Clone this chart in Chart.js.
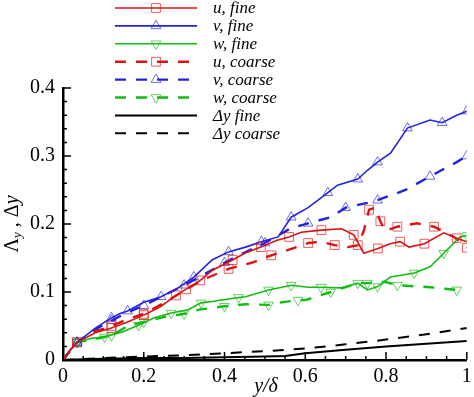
<!DOCTYPE html>
<html>
<head>
<meta charset="utf-8">
<script src="https://cdn.jsdelivr.net/npm/chart.js@4/dist/chart.umd.min.js"></script>
<style>
  body { margin: 0; background: #fff; }
</style>
</head>
<body>
<canvas id="chart" width="474" height="397"></canvas>
<script>
// Lambda_y and Delta_y against y/delta
const uFineX = [0, 0.02, 0.035, 0.08, 0.12, 0.16, 0.2, 0.24, 0.28, 0.31, 0.34, 0.37, 0.42, 0.45, 0.49, 0.53, 0.56, 0.59, 0.64, 0.69, 0.72, 0.745, 0.78, 0.81, 0.835, 0.857, 0.895, 0.943, 0.975, 1];
const uFineY = [0, 0.016, 0.026, 0.04, 0.047, 0.056, 0.066, 0.078, 0.095, 0.106, 0.117, 0.132, 0.147, 0.157, 0.166, 0.176, 0.181, 0.188, 0.191, 0.193, 0.184, 0.157, 0.164, 0.171, 0.174, 0.166, 0.171, 0.187, 0.179, 0.174];

const vFineX = [0, 0.02, 0.035, 0.08, 0.12, 0.14, 0.16, 0.2, 0.243, 0.285, 0.324, 0.369, 0.41, 0.452, 0.491, 0.533, 0.565, 0.607, 0.656, 0.68, 0.73, 0.754, 0.779, 0.811, 0.853, 0.909, 0.939, 0.975, 1];
const vFineY = [0, 0.016, 0.026, 0.047, 0.062, 0.068, 0.072, 0.085, 0.093, 0.106, 0.122, 0.147, 0.159, 0.166, 0.174, 0.181, 0.21, 0.224, 0.246, 0.257, 0.266, 0.279, 0.291, 0.304, 0.341, 0.353, 0.349, 0.36, 0.366];

const wFineX = [0, 0.02, 0.035, 0.071, 0.103, 0.145, 0.187, 0.226, 0.268, 0.31, 0.342, 0.369, 0.435, 0.452, 0.509, 0.533, 0.565, 0.607, 0.639, 0.688, 0.73, 0.754, 0.779, 0.811, 0.87, 0.909, 0.943, 0.983, 1];
const wFineY = [0, 0.016, 0.026, 0.032, 0.034, 0.041, 0.051, 0.062, 0.069, 0.074, 0.084, 0.086, 0.092, 0.093, 0.103, 0.106, 0.11, 0.107, 0.107, 0.106, 0.113, 0.103, 0.108, 0.122, 0.128, 0.137, 0.157, 0.181, 0.183];

const uCoarseX = [0, 0.02, 0.035, 0.08, 0.12, 0.16, 0.2, 0.25, 0.305, 0.354, 0.41, 0.467, 0.516, 0.558, 0.607, 0.639, 0.673, 0.705, 0.73, 0.745, 0.758, 0.772, 0.786, 0.798, 0.828, 0.877, 0.919, 0.968, 1];
const uCoarseY = [0, 0.016, 0.026, 0.042, 0.05, 0.06, 0.068, 0.084, 0.104, 0.12, 0.134, 0.143, 0.154, 0.162, 0.172, 0.174, 0.169, 0.166, 0.169, 0.19, 0.221, 0.224, 0.204, 0.19, 0.196, 0.201, 0.196, 0.181, 0.165];

const vCoarseX = [0, 0.02, 0.035, 0.08, 0.12, 0.16, 0.2, 0.25, 0.3, 0.35, 0.4, 0.45, 0.5, 0.565, 0.607, 0.663, 0.7, 0.754, 0.779, 0.848, 0.909, 0.975, 1];
const vCoarseY = [0, 0.016, 0.026, 0.045, 0.058, 0.07, 0.08, 0.095, 0.11, 0.126, 0.143, 0.158, 0.172, 0.194, 0.201, 0.21, 0.224, 0.231, 0.235, 0.25, 0.27, 0.291, 0.3];

const wCoarseX = [0, 0.02, 0.035, 0.08, 0.12, 0.16, 0.2, 0.25, 0.3, 0.337, 0.4, 0.452, 0.509, 0.533, 0.582, 0.6, 0.663, 0.73, 0.754, 0.796, 0.828, 0.909, 0.975];
const wCoarseY = [0, 0.016, 0.026, 0.031, 0.036, 0.05, 0.056, 0.063, 0.068, 0.074, 0.079, 0.082, 0.081, 0.084, 0.088, 0.088, 0.1, 0.113, 0.113, 0.115, 0.11, 0.107, 0.103];

const dyFineX = [0, 0.05, 0.1, 0.2, 0.3, 0.4, 0.5, 0.55, 0.6, 0.7, 0.8, 0.9, 1];
const dyFineY = [0, 0.001, 0.002, 0.003, 0.003, 0.004, 0.005, 0.006, 0.01, 0.015, 0.02, 0.024, 0.028];

const dyCoarseX = [0, 0.1, 0.2, 0.3, 0.4, 0.5, 0.6, 0.7, 0.8, 0.9, 1];
const dyCoarseY = [0, 0.003, 0.005, 0.007, 0.01, 0.013, 0.017, 0.023, 0.03, 0.038, 0.047];

const xTicks = [0, 0.2, 0.4, 0.6, 0.8, 1];
const yTicks = [0, 0.1, 0.2, 0.3, 0.4];

const RED = "#dd1111", BLUE = "#2323dd", GREEN = "#14bb14", BLACK = "#000";
const SERIF = "'Liberation Serif', serif";

function pts(xs, ys) {
  return xs.map((x, i) => ({x: x, y: ys[i]}));
}

// every other point carries an open marker, like the plot
const markSize = {rect: 6.2, triangle: 5.6};
function markEvery(style) {
  return ctx => (ctx.dataIndex > 0 && ctx.dataIndex % 2 === 0 ? markSize[style] : 0);
}

function series(label, xs, ys, color, style, opts) {
  return Object.assign({
    label: label,
    data: pts(xs, ys),
    borderColor: color,
    borderWidth: 1.6,
    pointStyle: style,
    pointRadius: style ? markEvery(style) : 0,
    pointBorderColor: color + "aa",
    pointBackgroundColor: "rgba(0,0,0,0)",
    pointBorderWidth: 1,
    tension: 0
  }, opts);
}

const dashed = [11, 10];

const datasets = [
  series("u, fine", uFineX, uFineY, RED, "rect"),
  series("v, fine", vFineX, vFineY, BLUE, "triangle"),
  series("w, fine", wFineX, wFineY, GREEN, "triangle", {pointRotation: 180}),
  series("u, coarse", uCoarseX, uCoarseY, RED, "rect", {borderDash: dashed, borderWidth: 2.4}),
  series("v, coarse", vCoarseX, vCoarseY, BLUE, "triangle", {borderDash: dashed, borderWidth: 2.4}),
  series("w, coarse", wCoarseX, wCoarseY, GREEN, "triangle", {pointRotation: 180, borderDash: dashed, borderWidth: 2.4}),
  series("Δy fine", dyFineX, dyFineY, BLACK, false, {borderWidth: 2}),
  series("Δy coarse", dyCoarseX, dyCoarseY, BLACK, false, {borderWidth: 2, borderDash: dashed})
];

// inward ticks, axis titles and the legend box are drawn by hand
const decor = {
  id: "decor",
  afterDraw(chart) {
    const ctx = chart.ctx;
    const xs = chart.scales.x, ys = chart.scales.y;
    const a = chart.chartArea;
    ctx.save();
    ctx.strokeStyle = BLACK;
    ctx.lineWidth = 1.5;
    ctx.beginPath();
    for (let v = 0; v <= 1.0001; v += 0.05) {
      const px = xs.getPixelForValue(v);
      const major = xTicks.some(t => Math.abs(t - v) < 1e-6);
      ctx.moveTo(px, a.bottom);
      ctx.lineTo(px, a.bottom - (major ? 8 : 4));
    }
    for (let v = 0; v <= 0.4001; v += 0.02) {
      const py = ys.getPixelForValue(v);
      const major = yTicks.some(t => Math.abs(t - v) < 1e-6);
      ctx.moveTo(a.left, py);
      ctx.lineTo(a.left + (major ? 8 : 4), py);
    }
    ctx.stroke();

    // y title: Λ_y , Δy
    ctx.fillStyle = BLACK;
    ctx.translate(13, 224);
    ctx.rotate(-Math.PI / 2);
    ctx.textBaseline = "middle";
    const parts = [
      {t: "Λ", f: "20px " + SERIF, dy: 0},
      {t: "y", f: "italic 13px " + SERIF, dy: 5},
      {t: " , Δ", f: "20px " + SERIF, dy: 0},
      {t: "y", f: "italic 20px " + SERIF, dy: 0}
    ];
    let total = 0;
    parts.forEach(p => { ctx.font = p.f; total += ctx.measureText(p.t).width; });
    let cx = -total / 2;
    parts.forEach(p => {
      ctx.font = p.f;
      ctx.textAlign = "left";
      ctx.fillText(p.t, cx, p.dy);
      cx += ctx.measureText(p.t).width;
    });
    ctx.setTransform(1, 0, 0, 1, 0, 0);

    // x title
    ctx.font = "italic 20px " + SERIF;
    ctx.textAlign = "center";
    ctx.textBaseline = "middle";
    ctx.fillText("y/δ", 266, 387);

    // legend
    ctx.font = "italic 17px " + SERIF;
    ctx.textAlign = "left";
    chart.data.datasets.forEach((ds, i) => {
      const y = 8 + 17.9 * i;
      ctx.strokeStyle = ds.borderColor;
      ctx.lineWidth = ds.borderWidth;
      ctx.setLineDash(ds.borderDash || []);
      ctx.beginPath();
      ctx.moveTo(115, y);
      ctx.lineTo(197, y);
      ctx.stroke();
      ctx.setLineDash([]);
      if (ds.pointStyle) {
        ctx.strokeStyle = ds.pointBorderColor;
        ctx.fillStyle = "rgba(0,0,0,0)";
        ctx.lineWidth = 1;
        Chart.helpers.drawPoint(ctx, {
          pointStyle: ds.pointStyle,
          rotation: ds.pointRotation || 0,
          radius: markSize[ds.pointStyle],
          borderWidth: 1
        }, 156, y);
      }
      ctx.fillStyle = BLACK;
      ctx.fillText(ds.label, 213, y + 1);
    });
    ctx.restore();
  }
};

const tickFont = {family: SERIF, size: 20};
const plain = v => String(Math.round(v * 100) / 100);

new Chart(document.getElementById("chart"), {
  type: "line",
  data: {datasets: datasets},
  options: {
    responsive: false,
    animation: false,
    devicePixelRatio: 1,
    layout: {padding: {top: 88, right: 0, left: 0, bottom: 0}},
    plugins: {legend: {display: false}, tooltip: {enabled: false}},
    events: [],
    scales: {
      x: {
        type: "linear",
        min: 0,
        max: 1,
        afterFit: s => { s.height = 37; s.paddingLeft = 0; s.paddingRight = 4; },
        afterBuildTicks: s => { s.ticks = xTicks.map(v => ({value: v})); },
        grid: {drawOnChartArea: false, drawTicks: false},
        border: {color: BLACK, width: 2.5},
        ticks: {color: BLACK, padding: 5, maxRotation: 0, font: tickFont, callback: plain}
      },
      y: {
        type: "linear",
        min: 0,
        max: 0.4,
        afterFit: s => { s.width = 63; },
        afterBuildTicks: s => { s.ticks = yTicks.map(v => ({value: v})); },
        grid: {drawOnChartArea: false, drawTicks: false},
        border: {color: BLACK, width: 2.5},
        ticks: {color: BLACK, padding: 8, font: tickFont, callback: plain}
      }
    }
  },
  plugins: [decor]
});
</script>
</body>
</html>
